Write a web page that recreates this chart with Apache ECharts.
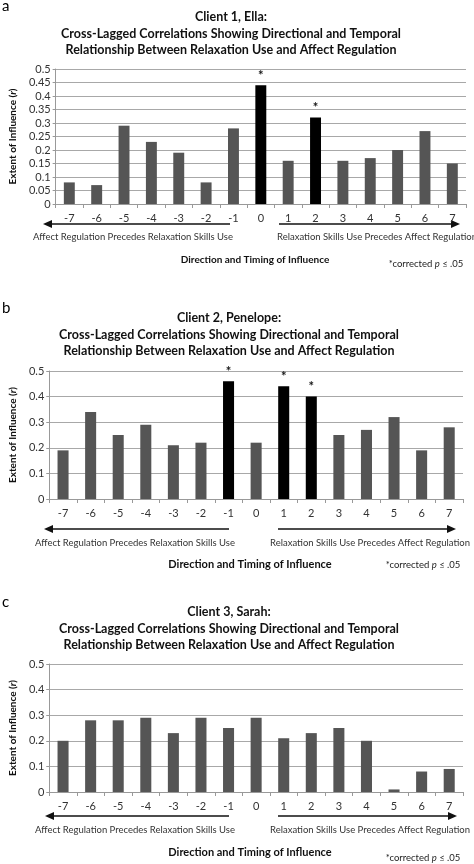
<!DOCTYPE html>
<html>
<head>
<meta charset="utf-8">
<title>Cross-lagged correlations</title>
<script src="https://cdn.jsdelivr.net/npm/echarts@6/dist/echarts.min.js"></script>
<style>
  html, body { margin: 0; padding: 0; background: #fff; }
  #chart { width: 474px; height: 864px; }
</style>
</head>
<body>
<div id="chart"></div>
<script>
// lag categories (negative: affect regulation first, positive: relaxation first)
const lags = ['-7', '-6', '-5', '-4', '-3', '-2', '-1', '0', '1', '2', '3', '4', '5', '6', '7'];

const ellaValues     = [0.08, 0.07, 0.29, 0.23, 0.19, 0.08, 0.28, 0.44, 0.16, 0.32, 0.16, 0.17, 0.20, 0.27, 0.15];
const penelopeValues = [0.19, 0.34, 0.25, 0.29, 0.21, 0.22, 0.46, 0.22, 0.44, 0.40, 0.25, 0.27, 0.32, 0.19, 0.28];
const sarahValues    = [0.20, 0.28, 0.28, 0.29, 0.23, 0.29, 0.25, 0.29, 0.21, 0.23, 0.25, 0.20, 0.01, 0.08, 0.09];

// lags marked with * (corrected p <= .05)
const ellaSignificant     = ['0', '2'];
const penelopeSignificant = ['-1', '1', '2'];
const sarahSignificant    = [];

const ellaTicks  = { max: 0.5, interval: 0.05 };
const otherTicks = { max: 0.5, interval: 0.1 };

const FONT = 'Lato';

const panels = [
  { letter: 'a', client: 'Client 1, Ella:', values: ellaValues, sig: ellaSignificant, ticks: ellaTicks,
    grid: { left: 42, right: 8, top: 69, height: 135 }, nameGap: 33 },
  { letter: 'b', client: 'Client 2, Penelope:', values: penelopeValues, sig: penelopeSignificant, ticks: otherTicks,
    grid: { left: 37, right: 11, top: 371, height: 128 }, nameGap: 29 },
  { letter: 'c', client: 'Client 3, Sarah:', values: sarahValues, sig: sarahSignificant, ticks: otherTicks,
    grid: { left: 37, right: 11, top: 664, height: 128 }, nameGap: 29 }
];

// text / arrow positions for each panel
const layout = [
  { letterY: 6, titleY: 17, arrowY: 224, arrowTextY: 237, axisTitleY: 260, noteY: 264,
    left: [43, 230], right: [279, 460], leftText: 133, rightText: 377, axisTitleX: 255, noteX: 426, titleX: 231 },
  { letterY: 308, titleY: 318, arrowY: 529, arrowTextY: 543, axisTitleY: 564, noteY: 565,
    left: [44, 229], right: [278, 456], leftText: 135, rightText: 370, axisTitleX: 250, noteX: 423, titleX: 229 },
  { letterY: 602, titleY: 612, arrowY: 816, arrowTextY: 830, axisTitleY: 852, noteY: 858,
    left: [45, 229], right: [278, 457], leftText: 135, rightText: 370, axisTitleX: 250, noteX: 423, titleX: 229 }
];

function arrow(x1, x2, y) {
  // x1 = head end
  const dir = x2 > x1 ? 1 : -1;
  const s = { stroke: '#111', lineWidth: 1.6 };
  return [
    { type: 'line', shape: { x1: x1 + dir * 6, y1: y, x2: x2, y2: y }, style: s },
    { type: 'polygon', shape: { points: [[x1, y], [x1 + dir * 9, y - 4], [x1 + dir * 9, y + 4]] },
      style: { fill: '#111' } }
  ];
}

function text(str, x, y, opts) {
  return {
    type: 'text', x: x, y: y,
    style: Object.assign({
      text: str, fill: '#222', font: '10px ' + FONT, align: 'center', verticalAlign: 'middle'
    }, opts || {})
  };
}

const graphics = [];
panels.forEach((p, i) => {
  const L = layout[i];
  graphics.push(text(p.letter, 2, L.letterY, { font: '15px ' + FONT, align: 'left', fill: '#000' }));
  const titleLines = [p.client,
    'Cross-Lagged Correlations Showing Directional and Temporal',
    'Relationship Between Relaxation Use and Affect Regulation'];
  titleLines.forEach((t, k) => {
    graphics.push(text(t, L.titleX, L.titleY + k * 16.5, { font: 'bold 12.5px ' + FONT, fill: '#111' }));
  });
  arrow(L.left[0], L.left[1], L.arrowY).forEach(g => graphics.push(g));
  arrow(L.right[1], L.right[0], L.arrowY).forEach(g => graphics.push(g));
  graphics.push(text('Affect Regulation Precedes Relaxation Skills Use', L.leftText, L.arrowTextY,
    { font: '9.5px ' + FONT, fill: '#333' }));
  graphics.push(text('Relaxation Skills Use Precedes Affect Regulation', L.rightText, L.arrowTextY,
    { font: '9.5px ' + FONT, fill: '#333' }));
  graphics.push(text('Direction and Timing of Influence', L.axisTitleX, L.axisTitleY,
    { font: 'bold ' + (i === 0 ? 10 : 11) + 'px ' + FONT, fill: '#111' }));
  graphics.push({
    type: 'text', x: L.noteX, y: L.noteY,
    style: {
      text: '{n|*corrected }{i|p}{n| ≤ .05}', align: 'center', verticalAlign: 'middle',
      rich: {
        n: { fontFamily: FONT, fontSize: 9.5, fill: '#222' },
        i: { fontFamily: FONT, fontSize: 9.5, fontStyle: 'italic', fill: '#222' }
      }
    }
  });
});

const option = {
  animation: false,
  backgroundColor: '#fff',
  textStyle: { fontFamily: FONT },
  grid: panels.map(p => Object.assign({ containLabel: false }, p.grid)),
  xAxis: panels.map((p, i) => ({
    type: 'category',
    gridIndex: i,
    data: lags,
    axisLine: { lineStyle: { color: '#999', width: 1 } },
    axisTick: { show: true, length: 4, lineStyle: { color: '#999' } },
    axisLabel: { color: '#333', fontSize: 11, margin: 9, fontFamily: FONT }
  })),
  yAxis: panels.map((p, i) => ({
    type: 'value',
    gridIndex: i,
    min: 0,
    max: p.ticks.max,
    interval: p.ticks.interval,
    name: '{b|Extent of Influence (}{i|r}{b|)}',
    nameLocation: 'middle',
    nameGap: p.nameGap,
    nameTextStyle: {
      rich: {
        b: { fontFamily: FONT, fontWeight: 'bold', fontSize: 10, color: '#111' },
        i: { fontFamily: FONT, fontWeight: 'bold', fontStyle: 'italic', fontSize: 10, color: '#111' }
      }
    },
    axisLine: { show: true, lineStyle: { color: '#999' } },
    axisTick: { show: true, length: 3, lineStyle: { color: '#999' } },
    axisLabel: {
      color: '#333', fontSize: 11, margin: 5, fontFamily: FONT,
      formatter: v => String(Math.round(v * 100) / 100)
    },
    splitLine: { lineStyle: { color: '#a8a8a8', width: 1 } }
  })),
  series: panels.map((p, i) => ({
    type: 'bar',
    xAxisIndex: i,
    yAxisIndex: i,
    barWidth: '40%',
    data: p.values.map((v, k) => {
      const marked = p.sig.indexOf(lags[k]) >= 0;
      return {
        value: v,
        itemStyle: { color: marked ? '#000' : '#555' },
        label: {
          show: marked, position: 'top', distance: 3, formatter: '*',
          fontSize: 13, fontWeight: 'bold', color: '#111', fontFamily: FONT
        }
      };
    })
  })),
  graphic: graphics
};

const chart = echarts.init(document.getElementById('chart'));
chart.setOption(option);
</script>
</body>
</html>
